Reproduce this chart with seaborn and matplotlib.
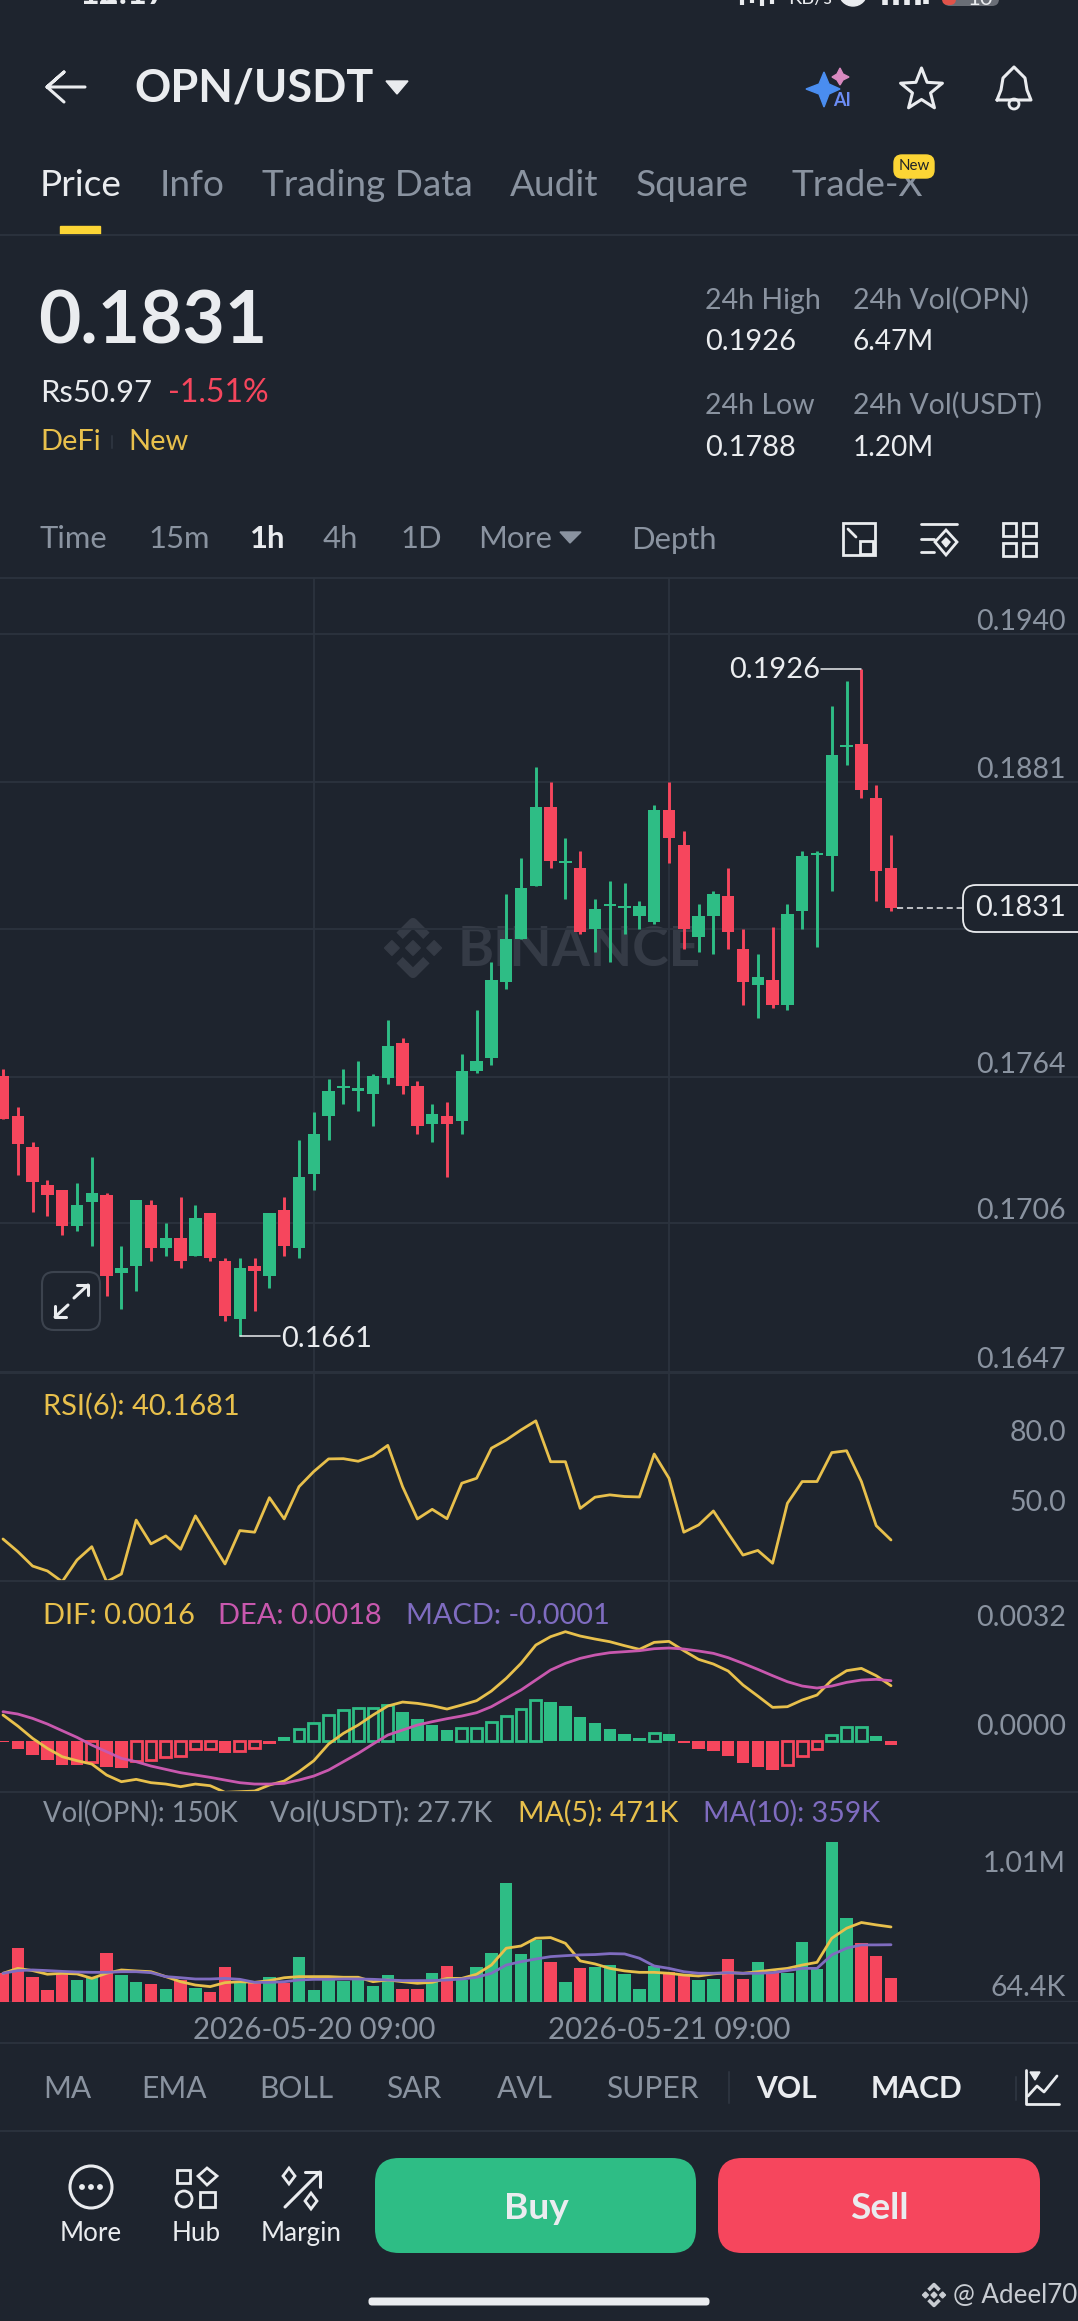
import numpy as np
import pandas as pd
import matplotlib
matplotlib.use('Agg')
import matplotlib.pyplot as plt
from matplotlib.patches import FancyBboxPatch, Polygon, Circle, Rectangle
import seaborn as sns

W, H = 1078, 2321
BG = '#1e242e'
GRID = '#2c333e'
GREEN = '#2ebd85'
RED = '#f6465d'
YELLOW = '#e8c04c'
PINK = '#c858ae'
PURPLE = '#7f6cc0'
GREY = '#8a93a0'
WHITE = '#eaecef'

## candles, in 1e-5 USDT
high = [17673, 17523, 17382, 17232, 17192, 17221, 17322, 17181, 16971, 17152, 17152, 17061, 17163, 17132, 17102, 16921,
        16921, 16921, 17102, 17163, 17392, 17503, 17633, 17673, 17705, 17653, 17865, 17795, 17623, 17533, 17543, 17733,
        17906, 18096, 18369, 18510, 18871, 18810, 18589, 18539, 18348, 18417, 18409, 18339, 18719, 18810, 18618, 18327,
        18377, 18469, 18227, 18127, 18237, 18327, 18539, 18539, 19112, 19212, 19260, 18800, 18601]
low = [17474, 17253, 17103, 17090, 17011, 17030, 16971, 16769, 16719, 16789, 16911, 16931, 16881, 16931, 16911, 16670,
       16610, 16710, 16801, 16931, 16921, 17192, 17392, 17534, 17505, 17444, 17613, 17571, 17412, 17383, 17242, 17415,
       17657, 17686, 17988, 18188, 18398, 18469, 18347, 18208, 18137, 18098, 18208, 18229, 18247, 18490, 18147, 18137,
       18127, 18147, 17925, 17875, 17916, 17906, 18227, 18157, 18378, 18879, 18749, 18339, 18299]
open_ = [17644, 17484, 17363, 17212, 17192, 17050, 17142, 17172, 16861, 16891, 17132, 16960, 17001, 16931, 17102, 16911,
         16679, 16890, 16850, 17113, 16960, 17254, 17484, 17595, 17584, 17574, 17635, 17775, 17604, 17453, 17484, 17464,
         17665, 17717, 18017, 18188, 18398, 18711, 18490, 18469, 18227, 18319, 18310, 18278, 18257, 18700, 18560, 18198,
         18278, 18359, 18147, 18006, 18026, 17925, 18298, 18520, 18519, 18949, 18961, 18749, 18469]
close = [17474, 17375, 17223, 17172, 17050, 17131, 17181, 16850, 16881, 17152, 16960, 17001, 16911, 17081, 16922, 16690,
         16881, 16870, 17102, 16971, 17242, 17413, 17584, 17605, 17595, 17644, 17764, 17605, 17444, 17494, 17453, 17665,
         17704, 18026, 18188, 18389, 18711, 18500, 18500, 18217, 18307, 18327, 18318, 18318, 18700, 18589, 18227, 18278,
         18368, 18217, 18017, 18037, 17925, 18287, 18519, 18531, 18920, 18960, 18780, 18459, 18310]
rsi = [40.6, 35.2, 29.0, 26.9, 22.3, 31.6, 37.3, 22.3, 25.6, 48.7, 38.5, 41.9, 36.2, 50.5, 40.2, 29.9, 44.2, 43.5, 58.3,
       49.2, 63.0, 69.5, 74.9, 75.0, 73.9, 76.2, 80.7, 63.0, 49.2, 53.3, 49.3, 64.5, 66.6, 79.5, 83.0, 87.3, 91.2, 73.7,
       73.7, 53.7, 58.5, 59.5, 58.8, 58.6, 77.0, 66.6, 43.5, 46.6, 52.6, 43.0, 33.7, 35.7, 30.2, 55.9, 65.2, 65.2, 77.6,
       78.4, 65.2, 46.3, 40.17]
## MACD, in 1e-6
dif = [756, 432, 69, -226, -471, -589, -687, -1011, -1207, -1138, -1236, -1276, -1354, -1276, -1325, -1521, -1501, -1482,
       -1305, -1187, -913, -589, -98, 216, 461, 756, 1021, 1138, 1099, 1030, 932, 1050, 1178, 1462, 1835, 2277, 2816,
       3062, 3209, 3081, 2993, 2914, 2797, 2689, 2895, 2924, 2650, 2394, 2257, 2051, 1639, 1315, 981, 1001, 1197, 1344,
       1786, 2061, 2129, 1914, 1619]
dea = [854, 785, 657, 491, 294, 98, -128, -324, -520, -618, -746, -844, -942, -1011, -1079, -1158, -1236, -1276, -1276,
       -1256, -1158, -1040, -864, -618, -373, -98, 167, 314, 461, 559, 648, 726, 824, 1001, 1246, 1492, 1786, 2080, 2277,
       2424, 2522, 2591, 2620, 2650, 2708, 2728, 2699, 2640, 2571, 2443, 2277, 2100, 1914, 1737, 1609, 1550, 1609, 1717,
       1786, 1806, 1766]
macd = [-50, -245, -422, -569, -716, -716, -638, -765, -795, -589, -569, -471, -451, -255, -245, -353, -304, -206, -108,
        118, 334, 510, 756, 903, 952, 952, 1050, 854, 628, 461, 314, 363, 363, 559, 736, 932, 1197, 1138, 1030, 707, 510,
        353, 196, 69, 236, 186, -79, -245, -304, -442, -657, -765, -873, -716, -442, -245, 167, 393, 393, 137, -128]
macd_hollow = [6, 9, 10, 11, 12, 13, 14, 16, 17, 20, 21, 22, 23, 24, 25, 26, 31, 32, 33, 34, 35, 36, 44, 53, 54, 55, 56,
               57, 58]
## volume, in thousands of OPN
vol = [179, 339, 158, 74, 179, 137, 158, 309, 168, 126, 109, 78, 137, 88, 63, 217, 126, 116, 154, 116, 280, 74, 137, 133,
       147, 101, 168, 78, 80, 179, 225, 137, 221, 309, 747, 301, 389, 248, 126, 210, 217, 229, 173, 82, 227, 189, 173,
       137, 143, 267, 143, 250, 179, 179, 375, 204, 1008, 528, 368, 288, 147]
ma5 = [179, 210, 196, 173, 179, 175, 147, 179, 200, 194, 189, 158, 126, 105, 95, 120, 126, 122, 133, 151, 158, 158, 158,
       154, 154, 126, 137, 126, 116, 122, 147, 147, 173, 231, 337, 351, 400, 404, 368, 257, 238, 210, 194, 185, 185, 179,
       168, 162, 175, 183, 179, 189, 200, 210, 231, 248, 400, 463, 499, 484, 471]
ma10 = [179, 196, 200, 196, 191, 187, 185, 185, 189, 189, 183, 158, 151, 143, 143, 147, 141, 122, 122, 126, 137, 141, 141,
        143, 143, 141, 137, 133, 133, 133, 137, 143, 154, 179, 231, 252, 269, 284, 290, 295, 297, 303, 301, 274, 225, 210,
        189, 179, 179, 183, 179, 179, 183, 196, 210, 210, 295, 337, 358, 358, 359]

price_grid = [0.1940, 0.1881, 0.1823, 0.1764, 0.1706, 0.1647]
price_labels = ['0.1940', '0.1881', '', '0.1764', '0.1706', '0.1647']
last_price = 0.1831
date_ticks = [21, 45]
date_labels = ['2026-05-20 09:00', '2026-05-21 09:00']

tabs = [('Price', 40), ('Info', 160), ('Trading Data', 262), ('Audit', 510), ('Square', 636), ('Trade-X', 792)]
intervals = [('Time', 40), ('15m', 148), ('1h', 250), ('4h', 323), ('1D', 400), ('More', 478), ('Depth', 631)]
indicators = [('MA', 43), ('EMA', 141), ('BOLL', 259), ('SAR', 386), ('AVL', 497), ('SUPER', 606), ('VOL', 756), ('MACD', 871)]

sns.set_theme(style='dark', rc={'axes.facecolor': BG, 'figure.facecolor': BG, 'savefig.facecolor': BG})
plt.rcParams['font.family'] = ['Lato', 'DejaVu Sans']

df = pd.DataFrame({'i': np.arange(len(close)), 'high': high, 'low': low, 'open': open_, 'close': close, 'rsi': rsi,
                   'dif': dif, 'dea': dea, 'macd': macd, 'vol': vol, 'ma5': ma5, 'ma10': ma10})
for c in ['high', 'low', 'open', 'close']:
    df[c] = df[c] / 1e5
for c in ['dif', 'dea', 'macd']:
    df[c] = df[c] / 1e6
df['up'] = df['close'] >= df['open']

fig = plt.figure(figsize=(W / 100, H / 100), dpi=100)


def px(size):
    return size * 0.72


def panel(top, bottom, ylim):
    ax = fig.add_axes([0, 1 - bottom / H, 1, (bottom - top) / H], zorder=2)
    ax.patch.set_visible(False)
    # candle i sits at 3 + 14.8 i pixels
    ax.set_xlim(-3 / 14.8, (W - 3) / 14.8)
    ax.set_ylim(*ylim)
    for s in ax.spines.values():
        s.set_visible(False)
    ax.set_xticks(date_ticks)
    ax.set_xticklabels([])
    ax.tick_params(length=0, labelleft=False)
    ax.xaxis.grid(True, color=GRID, lw=1.3)
    ax.yaxis.grid(False)
    ax.set_axisbelow(True)
    return ax


def right_label(ax, text, value, dy=14, color=GREY):
    ax.annotate(text, (1, value), xycoords=(ax.transAxes, 'data'), xytext=(-px(12), px(dy)),
                textcoords='offset points', ha='right', va='center', fontsize=px(28.5), color=color)


## full-page layers, in pixels
back = fig.add_axes([0, 0, 1, 1], zorder=1)
ui = fig.add_axes([0, 0, 1, 1], zorder=5)
for a in (back, ui):
    a.set_xlim(0, W)
    a.set_ylim(H, 0)
    a.axis('off')


def binance_logo(a, cx, cy, r, color, z=1):
    s = r * 0.23
    for dx, dy in [(0, 0), (-r * 0.66, 0), (r * 0.66, 0)]:
        a.add_patch(Polygon([(cx + dx - s, cy + dy), (cx + dx, cy + dy - s), (cx + dx + s, cy + dy), (cx + dx, cy + dy + s)],
                            color=color, zorder=z))
    for sign in (-1, 1):
        a.plot([cx - r * 0.42, cx, cx + r * 0.42], [cy + sign * r * 0.38, cy + sign * r * 0.8, cy + sign * r * 0.38],
               color=color, lw=px(r * 0.28), solid_capstyle='butt', zorder=z)


back.text(458, 950, 'BINANCE', fontsize=px(55), fontweight='bold', color='#353b46', va='center', ha='left')
binance_logo(back, 413, 948, 32, '#353b46')

## candles
ax = panel(578, 1372, (0.1647 - 0.3 / 25163, 0.1881 + 204.3 / 25163))
ax.set_yticks(price_grid)
ax.yaxis.grid(True, color=GRID, lw=1.3)
for up, col in [(True, GREEN), (False, RED)]:
    d = df[df['up'] == up]
    ax.vlines(d['i'], d['low'], d['high'], color=col, lw=2.1, zorder=3)
    ax.bar(d['i'], (d['close'] - d['open']).abs(), bottom=d[['open', 'close']].min(axis=1), width=0.83, color=col,
           linewidth=0, zorder=3)
for text, p in zip(price_labels, price_grid):
    if text:
        right_label(ax, text, p, dy=12)
ax.plot([60.4, 65.0], [last_price, last_price], color=WHITE, lw=1.1, ls=(0, (4, 2.5)), zorder=3)
# high / low callouts
ax.plot([58, 58 - 2.7], [0.1926, 0.1926], color=WHITE, lw=1.1, zorder=4)
ax.annotate('0.1926', (55.2, 0.1926), xytext=(0, -px(1)), textcoords='offset points', ha='right', va='center',
            fontsize=px(29), color=WHITE)
ax.plot([16, 18.7], [0.1661, 0.1661], color=WHITE, lw=1.1, zorder=4)
ax.annotate('0.1661', (18.8, 0.1661), xytext=(0, -px(3)), textcoords='offset points', ha='left', va='center',
            fontsize=px(29), color=WHITE)

## rsi
ax = panel(1373, 1581, (22.6, 111.7))
sns.lineplot(data=df, x='i', y='rsi', color=YELLOW, lw=2, ax=ax)
ax.set(xlabel='', ylabel='')
right_label(ax, '80.0', 80)
right_label(ax, '50.0', 50)

## macd
ax = panel(1581, 1791.7, (-51 / 33970, 159.7 / 33970))
for i, v, in zip(df['i'], df['macd']):
    col = GREEN if v > 0 else RED
    if i in macd_hollow:
        ax.bar(i, v, width=0.72, facecolor=BG, edgecolor=col, lw=2, zorder=3)
    else:
        ax.bar(i, v, width=0.83, color=col, linewidth=0, zorder=3)
sns.lineplot(data=df, x='i', y='dif', color=YELLOW, lw=2, ax=ax, zorder=4)
sns.lineplot(data=df, x='i', y='dea', color=PINK, lw=2, ax=ax, zorder=4)
ax.set(xlabel='', ylabel='')
right_label(ax, '0.0032', 0.0032)
right_label(ax, '0.0000', 0.0)

## volume
ax = panel(1791.7, 2001.7, (0, 209.7 * 6.31))
sns.barplot(data=df, x='i', y='vol', hue='up', palette={True: GREEN, False: RED}, native_scale=True, dodge=False,
            width=0.84, saturation=1, linewidth=0, legend=False, ax=ax, zorder=3)
sns.lineplot(data=df, x='i', y='ma5', color=YELLOW, lw=2, ax=ax, zorder=4)
sns.lineplot(data=df, x='i', y='ma10', color=PURPLE, lw=2, ax=ax, zorder=4)
ax.set(xlabel='', ylabel='')
ax.set_xlim(-3 / 14.8, (W - 3) / 14.8)
ax.set_ylim(0, 209.7 * 6.31)
ax.axhline(0, color=GRID, lw=2.5, zorder=1)
ax.set_xticks(date_ticks)
ax.set_xticklabels(date_labels, fontsize=px(29.5), color=GREY)
ax.tick_params(axis='x', pad=px(14), length=0)
ax.annotate('1.01M', (1, 1010), xycoords=(ax.transAxes, 'data'), xytext=(-px(12), -px(23)), textcoords='offset points',
            ha='right', va='center', fontsize=px(28.5), color=GREY)
ax.annotate('64.4K', (1, 0), xycoords=(ax.transAxes, 'data'), xytext=(-px(12), px(14)), textcoords='offset points',
            ha='right', va='center', fontsize=px(28.5), color=GREY)


def label(x, y, s, size=28.5, color=GREY, weight='normal', ha='left', z=6):
    ui.text(x, y + 1.5, s, fontsize=px(size), color=color, fontweight=weight, ha=ha, va='center', zorder=z)


def hline(y, x0=0, x1=W, color=GRID, lw=1.3):
    ui.plot([x0, x1], [y, y], color=color, lw=lw)


## last price box
ui.add_patch(FancyBboxPatch((973, 895), 125, 27, boxstyle='round,pad=10,rounding_size=13', fc=BG, ec=WHITE, lw=1.3, zorder=1))
label(1066, 907, f'{last_price:.4f}', size=29, color=WHITE, ha='right')

## panel headers
label(43, 1405, 'RSI(6): 40.1681', color=YELLOW, size=29)
label(43, 1614, 'DIF: 0.0016', color=YELLOW, size=29)
label(218, 1614, 'DEA: 0.0018', color=PINK, size=29)
label(406, 1614, 'MACD: -0.0001', color=PURPLE, size=29)
label(43, 1812, 'Vol(OPN): 150K', size=27.5)
label(270, 1812, 'Vol(USDT): 27.7K', size=28.5)
label(518, 1812, 'MA(5): 471K', color=YELLOW)
label(703, 1812, 'MA(10): 359K', color=PURPLE)
for y in (234.5, 578, 1372.5, 1581, 1791.7, 2043, 2131):
    hline(y)

## status bar, cut off at the top edge
ui.text(80, 4, '12:17', fontsize=px(34), color=WHITE, fontweight='bold', va='baseline')
ui.text(788, 4, 'KB/s', fontsize=px(20), color=WHITE, va='baseline')
ui.text(967, 5, '10', fontsize=px(22), color=WHITE, va='baseline', zorder=3)
ui.vlines([742, 752, 762, 772], -2, [5, 3, 6, 4], color=WHITE, lw=3)
ui.add_patch(Circle((853, -8), 14, color=WHITE))
ui.vlines([885, 896, 907, 918, 926], -2, [5, 5, 5, 5, 4], color=WHITE, lw=4)
ui.add_patch(FancyBboxPatch((950, -8), 42, 7, boxstyle='round,pad=7', color='#6a6e76', lw=0, zorder=1))
ui.add_patch(FancyBboxPatch((948, -8), 2, 7, boxstyle='round,pad=6', color='#e0534a', lw=0, zorder=2))

## header
ui.plot([85, 47, 64, 47, 64], [87, 87, 72, 87, 102], color=WHITE, lw=2.2)
label(134, 87, 'OPN/USDT', size=45, color=WHITE, weight='bold')
ui.add_patch(Polygon([(386, 81), (408, 81), (397, 94)], color=WHITE))
ui.add_patch(Polygon([(806, 89), (819, 84), (824, 72), (829, 84), (840, 89), (829, 94), (824, 107), (819, 94)], color='#4a8df0'))
ui.add_patch(Polygon([(840, 68), (843, 74), (849, 77), (843, 80), (840, 85), (837, 80), (832, 77), (837, 74)], color='#d98ac0'))
label(833, 99, 'AI', size=18, color='#6c8df5', weight='bold')
star = [(921.5 + r * np.sin(t * np.pi / 5), 90 - r * np.cos(t * np.pi / 5)) for t, r in enumerate([22, 9.5] * 5)]
ui.add_patch(Polygon(star, fill=False, ec=WHITE, lw=2.2, joinstyle='round'))
ui.plot([997, 1001, 1003, 1014, 1025, 1027, 1031, 997], [100, 90, 78, 67, 78, 90, 100, 100], color=WHITE, lw=2.2)
ui.add_patch(Circle((1014, 104), 5, fill=False, ec=WHITE, lw=2))

## tabs
for name, x in tabs:
    label(x, 184, name, size=37, color=WHITE if name == 'Price' else GREY)
ui.add_patch(Rectangle((60, 226), 40, 8, color='#fcd535'))
ui.add_patch(FancyBboxPatch((902, 163), 24, 7, boxstyle='round,pad=8', color='#fcd535', zorder=7))
label(914, 165, 'New', size=15, color='#1e2329', ha='center', z=8)

## ticker block
label(38, 322, '0.1831', size=73, color=WHITE, weight='bold')
label(40, 391, 'Rs50.97', size=31, color=WHITE)
label(168, 391, '-1.51%', size=32, color=RED)
label(40, 441, 'DeFi', size=29, color=YELLOW)
ui.plot([112, 112], [436, 448], color=GRID, lw=1.5)
label(128, 441, 'New', size=29, color=YELLOW)
label(705, 299, '24h High', size=28.5)
label(705, 341, '0.1926', size=29, color=WHITE)
label(853, 299, '24h Vol(OPN)', size=28.5)
label(853, 341, '6.47M', size=28, color=WHITE)
label(705, 404, '24h Low', size=28.5)
label(705, 446, '0.1788', size=29, color=WHITE)
label(853, 404, '24h Vol(USDT)', size=28.5)
label(853, 446, '1.20M', size=28, color=WHITE)

## interval row
for name, x in intervals:
    sel = name == '1h'
    label(x, 538, name, size=31, color=WHITE if sel else GREY, weight='bold' if sel else 'normal')
ui.add_patch(Polygon([(560, 532), (581, 532), (570, 543)], color=GREY))
ui.add_patch(Rectangle((843, 523), 32, 32, fill=False, ec=WHITE, lw=2))
ui.add_patch(Rectangle((860, 541), 13, 13, fc=BG, ec=WHITE, lw=2))
ui.plot([848, 856], [529, 537], color=WHITE, lw=2)
ui.plot([921, 957], [524, 524], color=WHITE, lw=2)
ui.plot([921, 934], [539, 539], color=WHITE, lw=2)
ui.plot([921, 934], [552, 552], color=WHITE, lw=2)
ui.add_patch(Polygon([(946, 530), (957, 542), (946, 555), (935, 542)], fill=False, ec=WHITE, lw=2))
ui.add_patch(Polygon([(946, 538), (950, 542), (946, 547), (942, 542)], color=WHITE))
for x, y in [(1003, 523), (1023, 523), (1003, 543), (1023, 543)]:
    ui.add_patch(Rectangle((x, y), 13, 13, fill=False, ec=WHITE, lw=2))

## expand button on the chart
ui.add_patch(FancyBboxPatch((54, 1284), 34, 34, boxstyle='round,pad=12', fc=BG, ec='#3c434e', lw=1.5))
ui.plot([74, 88], [1298, 1285], color=WHITE, lw=2.2)
ui.plot([77, 88, 88], [1285, 1285, 1295], color=WHITE, lw=2.2)
ui.plot([55, 68], [1317, 1305], color=WHITE, lw=2.2)
ui.plot([55, 55, 66], [1306, 1317, 1317], color=WHITE, lw=2.2)

## indicator row
for name, x in indicators:
    sel = name in ('VOL', 'MACD')
    label(x, 2088, name, size=30, color=WHITE if sel else GREY, weight='bold' if sel else 'normal')
ui.plot([729, 729], [2072, 2103], color=GRID, lw=1.5)
ui.plot([1016, 1016], [2077, 2100], color=GRID, lw=1.5)
ui.plot([1026, 1026, 1059], [2070, 2104, 2104], color=WHITE, lw=2)
ui.plot([1028, 1037, 1044, 1057], [2096, 2086, 2092, 2076], color=WHITE, lw=2)
ui.add_patch(Polygon([(1030, 2072), (1040, 2072), (1035, 2080)], color=WHITE))

## bottom bar
for name, x in [('More', 91), ('Hub', 196), ('Margin', 301)]:
    label(x, 2232, name, size=26, color=WHITE, ha='center')
ui.add_patch(Circle((91, 2187), 21, fill=False, ec=WHITE, lw=2.2))
for dx in (-9, 0, 9):
    ui.add_patch(Circle((91 + dx, 2187), 2.2, color=WHITE))
ui.add_patch(Rectangle((177, 2170), 13, 13, fill=False, ec=WHITE, lw=2))
ui.add_patch(Polygon([(207, 2168), (217, 2176), (207, 2185), (198, 2176)], fill=False, ec=WHITE, lw=2))
ui.add_patch(Circle((184, 2199), 8, fill=False, ec=WHITE, lw=2))
ui.add_patch(Rectangle((200, 2192), 15, 15, fill=False, ec=WHITE, lw=2))
ui.plot([285, 320], [2207, 2172], color=WHITE, lw=2.2)
ui.plot([305, 320, 320], [2172, 2172, 2187], color=WHITE, lw=2.2)
for cx, cy in [(289, 2176), (311, 2201)]:
    ui.add_patch(Polygon([(cx, cy - 8), (cx + 6, cy), (cx, cy + 8), (cx - 6, cy)], fill=False, ec=WHITE, lw=2))
ui.add_patch(FancyBboxPatch((399, 2182), 273, 47, boxstyle='round,pad=24', color=GREEN, lw=0))
ui.add_patch(FancyBboxPatch((742, 2182), 274, 47, boxstyle='round,pad=24', color=RED, lw=0))
label(536, 2207, 'Buy', size=37, color=WHITE, weight='bold', ha='center')
label(879, 2207, 'Sell', size=37, color=WHITE, weight='bold', ha='center')
ui.add_patch(FancyBboxPatch((372, 2301), 334, 1, boxstyle='round,pad=3.5', color=WHITE, lw=0))
binance_logo(ui, 934, 2295, 13, '#c8ccd2', z=6)
label(953, 2294, '@ Adeel70', size=26, color='#c8ccd2')

fig.savefig('out.png', dpi=100, facecolor=BG)
